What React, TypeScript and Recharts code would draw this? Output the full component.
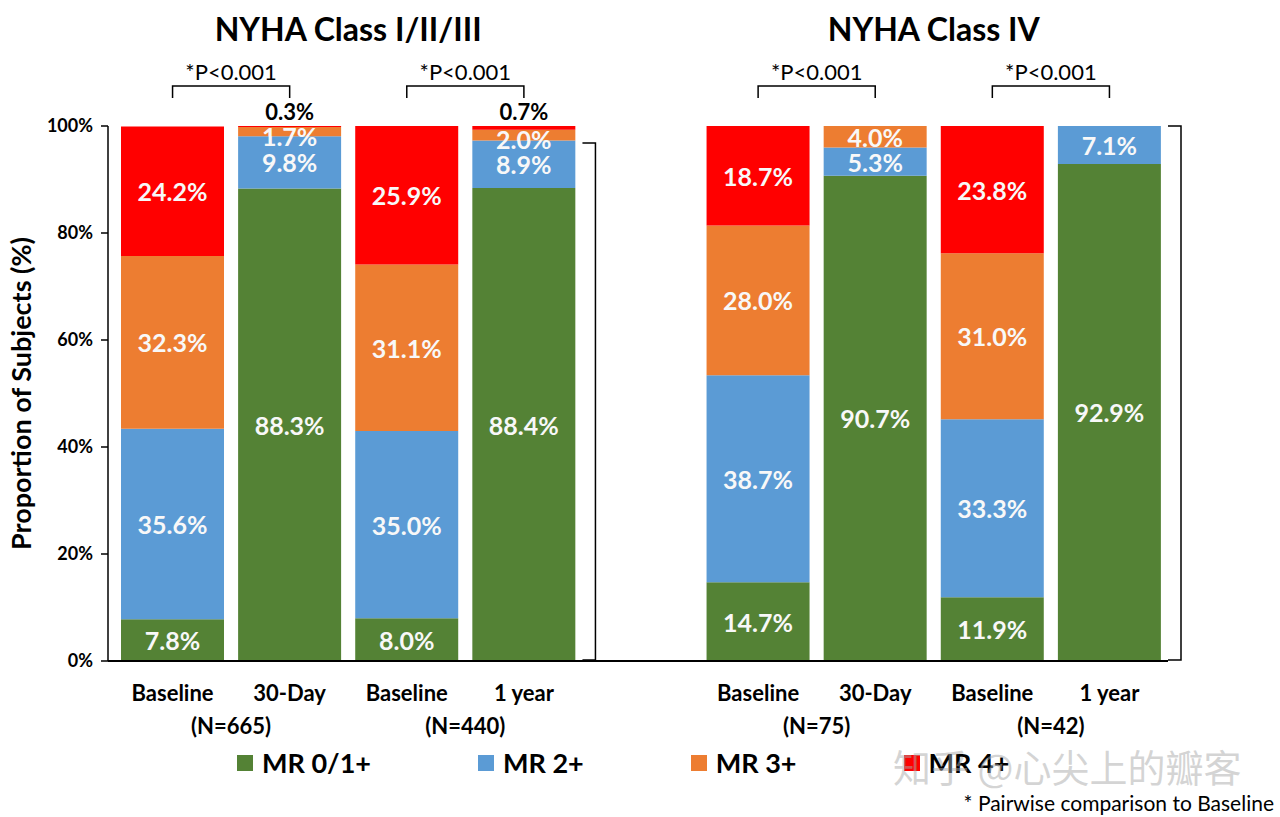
import React from 'react';
import { BarChart, Bar, XAxis, YAxis, LabelList, ReferenceLine, Label } from 'recharts';

// categories (one empty slot separates the two NYHA panels)
const categoryIds = ['base1', 'day30a', 'base2', 'year1a', 'gap', 'base3', 'day30b', 'base4', 'year1b'];
const categoryLabels = ['Baseline', '30-Day', 'Baseline', '1 year', '', 'Baseline', '30-Day', 'Baseline', '1 year'];

// series values (%)
const mr01 = [7.8, 88.3, 8.0, 88.4, null, 14.7, 90.7, 11.9, 92.9];
const mr2 = [35.6, 9.8, 35.0, 8.9, null, 38.7, 5.3, 33.3, 7.1];
const mr3 = [32.3, 1.7, 31.1, 2.0, null, 28.0, 4.0, 31.0, 0];
const mr4 = [24.2, 0.3, 25.9, 0.7, null, 18.7, 0, 23.8, 0];

const yTicks = [0, 20, 40, 60, 80, 100];

const panelTitles = ['NYHA Class I/II/III', 'NYHA Class IV'];
const panelSpans = [['base1', 'year1a'], ['base3', 'year1b']];
const comparisonPairs = [['base1', 'day30a'], ['base2', 'year1a'], ['base3', 'day30b'], ['base4', 'year1b']];
const sampleSizes = ['(N=665)', '(N=440)', '(N=75)', '(N=42)'];
const pValues = ['*P<0.001', '*P<0.001', '*P<0.001', '*P<0.001'];
const sideBrackets = [{ at: 'year1a', top: 96.8 }, { at: 'year1b', top: 100 }];

const series = [
  { key: 'mr01', name: 'MR 0/1+', color: '#548235', values: mr01 },
  { key: 'mr2', name: 'MR 2+', color: '#5B9BD5', values: mr2 },
  { key: 'mr3', name: 'MR 3+', color: '#ED7D31', values: mr3 },
  { key: 'mr4', name: 'MR 4+', color: '#FF0000', values: mr4 },
];

const data = categoryIds.map((id, i) => {
  const row: any = { id, label: categoryLabels[i] };
  series.forEach(s => { row[s.key] = s.values[i]; });
  return row;
});

const FONT = 'Lato, "Open Sans", "DejaVu Sans", sans-serif';

const SegmentLabel = (props: any) => {
  const { x, y, width, height, value } = props;
  if (!value) return null;
  const cx = x + width / 2;
  const text = `${Number(value).toFixed(1)}%`;
  if (value < 1) {
    return (
      <text x={cx} y={y - 15} textAnchor="middle" dominantBaseline="central" fill="#000" fontSize={22} fontWeight={700} fontFamily={FONT}>
        {text}
      </text>
    );
  }
  const cy = y + height / 2 + (value < 3 ? 4 : 0);
  return (
    <text x={cx} y={cy} textAnchor="middle" dominantBaseline="central" fill="#f8f8f8" fontSize={25} fontWeight={700} fontFamily={FONT}>
      {text}
    </text>
  );
};

const CategoryTick = (props: any) => {
  const { x, y, payload } = props;
  const idx = categoryIds.indexOf(payload.value);
  return (
    <text x={x} y={y + 31} textAnchor="middle" dominantBaseline="central" fontSize={22} fontWeight={700} fill="#000" fontFamily={FONT}>
      {categoryLabels[idx]}
    </text>
  );
};

const titleShape = (text: string) => (p: any) => (
  <text x={(p.x1 + p.x2) / 2} y={p.y1} textAnchor="middle" dominantBaseline="central" fontSize={32} fontWeight={700} fill="#000" fontFamily={FONT}>
    {text}
  </text>
);

const sampleShape = (text: string) => (p: any) => (
  <text x={(p.x1 + p.x2) / 2} y={p.y1} textAnchor="middle" dominantBaseline="central" fontSize={22} fontWeight={700} fill="#000" fontFamily={FONT}>
    {text}
  </text>
);

const pShape = (text: string) => (p: any) => (
  <g>
    <path d={`M${p.x1},${p.y1 + 12}V${p.y1}H${p.x2}V${p.y1 + 12}`} stroke="#000" strokeWidth={1.5} fill="none" />
    <text x={(p.x1 + p.x2) / 2} y={p.y1 - 14} textAnchor="middle" dominantBaseline="central" fontSize={22} fill="#000" fontFamily={FONT}>
      {text}
    </text>
  </g>
);

const sideBracketShape = (p: any) => {
  const top = Math.min(p.y1, p.y2);
  const bottom = Math.max(p.y1, p.y2);
  return (
    <path d={`M${p.x1},${top}H${p.x1 + 13}V${bottom}H${p.x1}`} stroke="#000" strokeWidth={1.5} fill="none" />
  );
};

const YLabel = (props: any) => {
  const vb = props.viewBox || {};
  const cy = vb.y + vb.height / 2;
  return (
    <text x={20} y={cy} transform={`rotate(-90, 20, ${cy})`} textAnchor="middle" dominantBaseline="central" fontSize={27} fontWeight={700} fill="#000" fontFamily={FONT}>
      Proportion of Subjects (%)
    </text>
  );
};

export default function App() {
  return (
    <div style={{ position: 'absolute', left: 0, top: 0, width: 1280, height: 817, background: '#fff', fontFamily: FONT }}>
      <BarChart width={1280} height={817} data={data} margin={{ top: 126, right: 112, left: 0, bottom: 86 }}>
        <XAxis
          dataKey="id"
          type="category"
          height={70}
          padding={{ left: 6, right: 0 }}
          tick={<CategoryTick />}
          tickLine={false}
          tickSize={0}
          tickMargin={0}
          interval={0}
          axisLine={{ stroke: '#000', strokeWidth: 2 }}
        />
        <YAxis
          width={108}
          domain={[0, 100]}
          allowDataOverflow
          ticks={yTicks}
          tickFormatter={(v: number) => `${v}%`}
          tick={{ fill: '#000', fontSize: 18, fontWeight: 700, fontFamily: FONT }}
          tickLine={{ stroke: '#000', strokeWidth: 1.5 }}
          tickSize={7}
          tickMargin={8}
          axisLine={{ stroke: '#000', strokeWidth: 1.5 }}
        >
          <Label content={<YLabel />} />
        </YAxis>
        {series.map(s => (
          <Bar key={s.key} dataKey={s.key} name={s.name} stackId="mr" fill={s.color} barSize={103} isAnimationActive={false}>
            <LabelList dataKey={s.key} content={<SegmentLabel />} />
          </Bar>
        ))}
        {panelTitles.map((t, i) => (
          <ReferenceLine
            key={`title-${i}`}
            segment={[{ x: panelSpans[i][0], y: 118.3 }, { x: panelSpans[i][1], y: 118.3 }]}
            ifOverflow="visible"
            shape={titleShape(t)}
          />
        ))}
        {comparisonPairs.map((pair, i) => (
          <ReferenceLine
            key={`p-${i}`}
            segment={[{ x: pair[0], y: 107.5 }, { x: pair[1], y: 107.5 }]}
            ifOverflow="visible"
            shape={pShape(pValues[i])}
          />
        ))}
        {comparisonPairs.map((pair, i) => (
          <ReferenceLine
            key={`n-${i}`}
            segment={[{ x: pair[0], y: -12 }, { x: pair[1], y: -12 }]}
            ifOverflow="visible"
            shape={sampleShape(sampleSizes[i])}
          />
        ))}
        {sideBrackets.map((b, i) => (
          <ReferenceLine
            key={`side-${i}`}
            segment={[{ x: b.at, y: b.top }, { x: b.at, y: 0.2 }]}
            position="end"
            ifOverflow="visible"
            shape={sideBracketShape}
          />
        ))}
      </BarChart>

      <div style={{ position: 'absolute', left: 237, top: 747, display: 'flex', alignItems: 'center', gap: 107 }}>
        {series.map(s => (
          <div key={s.key} style={{ display: 'flex', alignItems: 'center', height: 32 }}>
            <div style={{ width: 16, height: 16, background: s.color, marginRight: 9 }} />
            <span style={{ fontSize: 27, fontWeight: 700, color: '#000', lineHeight: '32px' }}>{s.name}</span>
          </div>
        ))}
      </div>

      <div style={{ position: 'absolute', left: 893, top: 744, fontSize: 38, color: 'rgba(170,170,170,0.5)', fontFamily: '"Noto Sans CJK SC", sans-serif', lineHeight: '44px', whiteSpace: 'nowrap' }}>
        知乎 @心尖上的瓣客
      </div>

      <div style={{ position: 'absolute', right: 6, top: 790, fontSize: 21, color: '#000', lineHeight: '25px', whiteSpace: 'nowrap' }}>
        * Pairwise comparison to Baseline
      </div>
    </div>
  );
}
